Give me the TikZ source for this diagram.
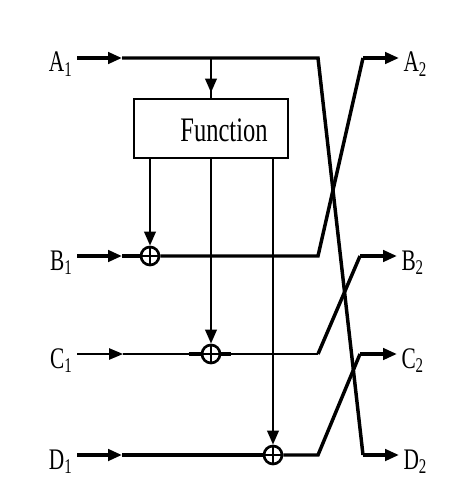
\documentclass[tikz,border=0pt]{standalone}
\usepackage{fontspec}
\setmainfont{Liberation Serif}
\usetikzlibrary{arrows.meta,calc}

\tikzset{every picture/.style={line width=0.75pt}}
\tikzset{
  wire/.style={line width=2.6pt},
  thinwire/.style={line width=1.2pt},
  tap/.style={line width=2pt},
  tip/.style={-{Triangle[length=10.5pt,width=8.5pt]}},
  portin/.style={anchor=base east,inner sep=0pt,inner xsep=3pt,font=\fontsize{16}{18}\selectfont,yscale=1.4},
  portout/.style={anchor=base west,inner sep=0pt,inner xsep=3pt,font=\fontsize{16}{18}\selectfont,yscale=1.4},
  fnbox/.style={draw,line width=2pt,minimum width=115.5pt,minimum height=44.25pt,inner sep=0pt},
  xorgate/.style={circle,draw,fill=white,line width=2pt,minimum size=13.5pt,inner sep=0pt,
    path picture={\draw[line width=1.8pt] (path picture bounding box.north) -- (path picture bounding box.south)
      (path picture bounding box.west) -- (path picture bounding box.east);}},
}

\begin{document}
\begin{tikzpicture}[x=0.75pt,y=0.75pt,yscale=-1,xscale=1]
\useasboundingbox (0,0) rectangle (474,502);

% Text Node
\node[portin] (a1) at (77,72) {A\textsubscript{1}};
\node[portin] (b1) at (77,270) {B\textsubscript{1}};
\node[portin] (c1) at (77,368) {C\textsubscript{1}};
\node[portin] (d1) at (77,469) {D\textsubscript{1}};
% Text Node
\node[portout] (a2) at (399,72) {A\textsubscript{2}};
\node[portout] (b2) at (397,270) {B\textsubscript{2}};
\node[portout] (c2) at (397,368) {C\textsubscript{2}};
\node[portout] (d2) at (399,469) {D\textsubscript{2}};

% Function
\node[fnbox] (fn) at (211,128.5) {};
\node[inner sep=0pt,font=\fontsize{18.4}{20}\selectfont,yscale=1.4] (fntxt) at (224,130) {Function};

% Xor
\node[xorgate] (xb) at (150,256) {};
\node[xorgate] (xc) at (211,354) {};
\node[xorgate] (xd) at (273,455) {};

% Bends
\coordinate (ain) at (122,58);  \coordinate (at) at (318,58);  \coordinate (ad) at (363,455);
\coordinate (bin) at (122,256); \coordinate (bt) at (318,256); \coordinate (ba) at (363,58);
\coordinate (cin) at (123,354); \coordinate (ct) at (318,354); \coordinate (cb) at (360,256);
\coordinate (din) at (122,455); \coordinate (dt) at (318,455); \coordinate (dc) at (360,354);

%Straight Lines A
\draw[wire,tip] (a1.east |- ain) -- (ain);
\draw[wire] (ain) -- (at) -- (ad);
\draw[wire,tip] (ad) -- (d2.west |- ad);
%Straight Lines B
\draw[wire,tip] (b1.east |- bin) -- (bin);
\draw[wire] (bin) -- (xb.west);
\draw[wire] (xb.east) -- (bt) -- (ba);
\draw[wire,tip] (ba) -- (a2.west |- ba);
%Straight Lines C
\draw[thinwire,tip] (c1.east |- cin) -- (cin);
\draw[thinwire] (cin) -- (xc.west);
\draw[wire] ($(xc.west)+(-12,0)$) -- (xc.west);
\draw[wire] (xc.east) -- ($(xc.east)+(10,0)$);
\draw[thinwire] (xc.east) -- (ct);
\draw[wire] (ct) -- (cb);
\draw[wire,tip] (cb) -- (b2.west |- cb);
%Straight Lines D
\draw[wire,tip] (d1.east |- din) -- (din);
\draw[wire] (din) -- (xd.west);
\draw[wire] (xd.east) -- (dt) -- (dc);
\draw[wire,tip] (dc) -- (c2.west |- dc);

%Taps
\draw[tap] (fn.north |- ain) -- (fn.north);
\draw[tap,tip] (fn.north |- ain) -- ($(fn.north)+(0,-5)$);
\draw[tap,tip] (fn.south -| xb) -- (xb.north);
\draw[tap,tip] (fn.south -| xc) -- (xc.north);
\draw[tap,tip] (fn.south -| xd) -- (xd.north);

\end{tikzpicture}
\end{document}
